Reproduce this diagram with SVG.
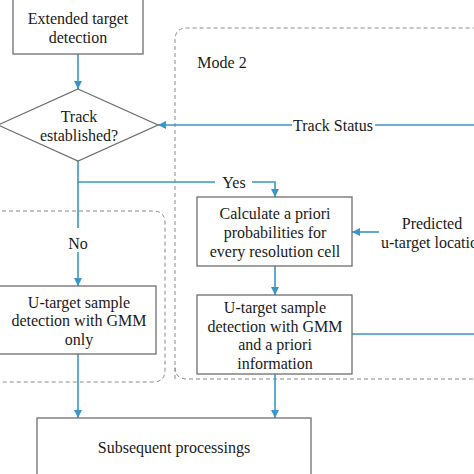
<svg xmlns="http://www.w3.org/2000/svg" width="474" height="474" viewBox="0 0 474 474" font-family="'Liberation Serif','Times New Roman',serif">
<defs>
<style>
.box{fill:#fff;stroke:#6e6e6e;stroke-width:1.3}
.grp{fill:none;stroke:#8a8a8a;stroke-width:1;stroke-dasharray:4 3}
.ln{fill:none;stroke:#3a96c6;stroke-width:1.6}
text{font-family:"Liberation Serif","Times New Roman",serif;font-size:16px;fill:#1a1a1a;text-anchor:middle;dominant-baseline:central}
</style>
<marker id="ah" viewBox="0 0 10 10" refX="10" refY="5" markerWidth="8" markerHeight="8" markerUnits="userSpaceOnUse" orient="auto">
<path d="M0,0 L10,5 L0,10 Z" fill="#3a96c6"/>
</marker>
</defs>
<rect width="474" height="474" fill="#fff"/>
<g id="groups">
<path class="grp" d="M175,379 L175,40 Q175,28 187,28 L480,28 M480,379 L187,379 Q175,379 175,367"/>
<path class="grp" d="M-5,211 L153,211 Q165,211 165,223 L165,370 Q165,382 153,382 L-5,382"/>
<text x="222" y="62">Mode 2</text>
</g>
<g id="connectors">
<line class="ln" x1="474" y1="125" x2="158" y2="125" marker-end="url(#ah)"/>
<rect x="292" y="115" width="83" height="20" fill="#fff"/>
<text x="333" y="125">Track Status</text>
<line class="ln" x1="78" y1="54" x2="78" y2="89" marker-end="url(#ah)"/>
<polyline class="ln" points="78,161 78,182 215,182"/>
<text x="234" y="182">Yes</text>
<polyline class="ln" points="252,182 275,182 275,197" marker-end="url(#ah)"/>
<line class="ln" x1="78" y1="182" x2="78" y2="228"/>
<text x="78" y="243">No</text>
<line class="ln" x1="78" y1="252" x2="78" y2="286" marker-end="url(#ah)"/>
<line class="ln" x1="379" y1="232" x2="352" y2="232" marker-end="url(#ah)"/>
<text x="432" y="223">Predicted</text>
<text x="381" y="242" text-anchor="start" style="text-anchor:start">u-target location</text>
<line class="ln" x1="275" y1="266" x2="275" y2="295" marker-end="url(#ah)"/>
<line class="ln" x1="352" y1="334" x2="474" y2="334"/>
<line class="ln" x1="275" y1="374" x2="275" y2="418" marker-end="url(#ah)"/>
<line class="ln" x1="78" y1="354" x2="78" y2="418" marker-end="url(#ah)"/>
</g>
<g id="n-extended">
<rect class="box" x="13" y="-2" width="130" height="56"/>
<text x="78" y="18">Extended target</text>
<text x="78" y="37">detection</text>
</g>
<g id="n-track">
<polygon class="box" points="78,89 158,125 78,161 -2,125"/>
<text x="79" y="116">Track</text>
<text x="79" y="135">established?</text>
</g>
<g id="n-calc">
<rect class="box" x="197" y="197" width="155" height="69"/>
<text x="275" y="213">Calculate a priori</text>
<text x="275" y="232">probabilities for</text>
<text x="275" y="251">every resolution cell</text>
</g>
<g id="n-gmm-prior">
<rect class="box" x="197" y="295" width="155" height="79"/>
<text x="275" y="307">U-target sample</text>
<text x="275" y="326">detection with GMM</text>
<text x="275" y="344">and a priori</text>
<text x="275" y="363">information</text>
</g>
<g id="n-gmm-only">
<rect class="box" x="-1" y="286" width="157" height="68"/>
<text x="79" y="302">U-target sample</text>
<text x="79" y="320">detection with GMM</text>
<text x="79" y="339">only</text>
</g>
<g id="n-subsequent">
<rect class="box" x="37" y="418" width="274" height="60"/>
<text x="174" y="447">Subsequent processings</text>
</g>
</svg>
